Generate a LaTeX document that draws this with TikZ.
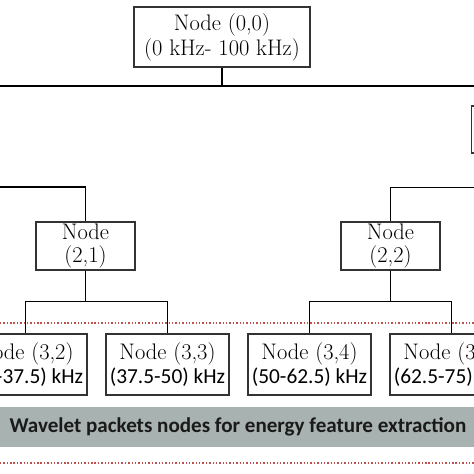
\documentclass[tikz,border=0pt]{standalone}
\usepackage{fontspec}
\newfontfamily\calib{Carlito}
\usepackage{tikz}
\usetikzlibrary{positioning,calc}
\definecolor{boxline}{HTML}{333333}
\definecolor{dotred}{HTML}{C0504D}
\definecolor{band}{HTML}{A8B2B0}
\definecolor{bandtext}{HTML}{1A1A1A}
\tikzset{
  pkt/.style={draw=boxline,line width=0.9pt,fill=white,align=center,inner sep=0pt,
    font=\fontsize{16}{17.8}\selectfont},
  wire/.style={draw=black,line width=0.8pt},
  cut/.style={draw=dotred,line width=1pt,dash pattern=on 1pt off 1.4pt},
}

\begin{document}
\begin{tikzpicture}
  \useasboundingbox (0,0) rectangle (11.85,11.85);
  \clip (0,0) rectangle (11.85,11.85);
  % tree, levels 0 to 2
  \node[pkt,minimum width=4.4cm,minimum height=1.5cm] (n00) at (5.55,10.925)
    {Node (0,0)\\(0 kHz- 100 kHz)};
  \node[pkt,minimum width=4.4cm,minimum height=1.175cm] (n11) at (13.99,8.6125) {};
  \coordinate (l00) at (-0.5,9.7);
  \coordinate (l10) at (-0.5,7.175);
  \node[pkt,minimum width=2.475cm,minimum height=1.2cm,font=\fontsize{16}{17}\selectfont]
    (n21) at (2.1375,5.7) {Node\\(2,1)};
  \node[pkt,minimum width=2.475cm,minimum height=1.2cm,font=\fontsize{16}{17}\selectfont]
    (n22) at (9.7625,5.7) {Node\\(2,2)};
  % level 3
  \foreach \k/\x/\f in {2/0.6375/25-37.5, 3/4.1875/37.5-50, 4/7.7375/50-62.5, 5/11.2875/62.5-75}
    \node[pkt,minimum width=3.075cm,minimum height=1.525cm,font=\fontsize{16}{16.5}\selectfont]
      (n3\k) at (\x,2.7375) {Node (3,\k)\\{\calib\fontsize{15.2}{16.5}\selectfont (\f) kHz}};
  % connectors
  \draw[wire] (l00) -| (n11.north);
  \draw[wire] (n00.south) -- (n00.south |- l00);
  \draw[wire] (l10) -| (n21.north);
  \draw[wire] (n11.south) -- ++(0,-0.85) -| (n22.north);
  \draw[wire] (n21.south) -- ++(0,-0.775) -| (n32.north);
  \draw[wire] (n21.south) -- ++(0,-0.775) -| (n33.north);
  \draw[wire] (n22.south) -- ++(0,-0.775) -| (n34.north);
  \draw[wire] (n22.south) -- ++(0,-0.775) -| (n35.north);
  % feature band
  \draw[cut] (0,3.775) -- (11.85,3.775);
  \draw[cut] (0,0.275) -- (11.85,0.275);
  \node[fill=band,minimum width=12cm,minimum height=1cm,inner sep=0pt,text=bandtext,
    font=\calib\bfseries\fontsize{15}{18}\selectfont] (band) at (5.95,1.175)
    {Wavelet packets nodes for energy feature extraction};
\end{tikzpicture}
\end{document}
